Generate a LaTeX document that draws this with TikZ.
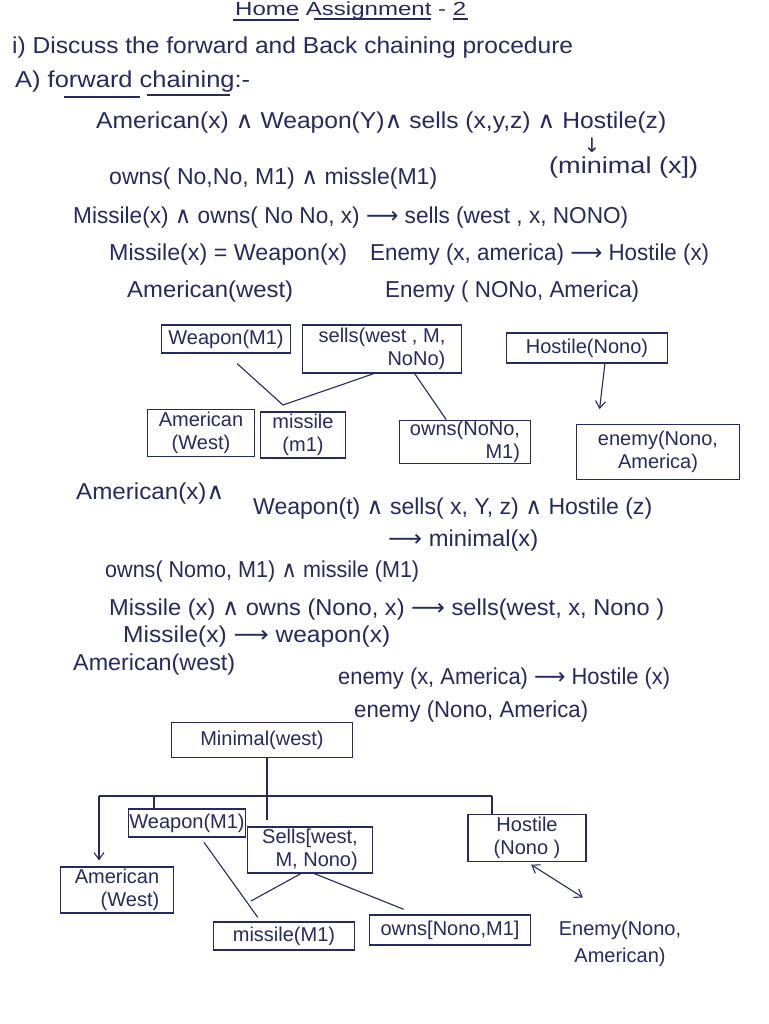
\documentclass[tikz,border=0pt]{standalone}
\usepackage{fontspec}
\setmainfont{Liberation Sans}
\newfontfamily\sym{DejaVu Sans}
\usetikzlibrary{arrows.meta,calc}
\definecolor{ink}{RGB}{38,42,92}
\newcommand{\hw}[2]{\resizebox{#1pt}{\height}{#2}}
\newcommand{\AND}{{\sym ∧}}
\newcommand{\LAR}{{\sym ⟶}}
\begin{document}
\begin{tikzpicture}[x=1pt,y=-1pt,
  txt/.style={inner sep=0pt, anchor=base west, text=ink, font=\fontsize{23}{27}\selectfont},
  box/.style={draw=ink, line width=1.1pt, text=ink, inner sep=1pt, font=\fontsize{20}{23}\selectfont, align=center},
  wire/.style={draw=ink, line width=1.1pt},
  tip/.style={-{Straight Barb[length=7pt,width=10pt]}},
  tips/.style={{Straight Barb[length=7pt,width=10pt]}-{Straight Barb[length=7pt,width=10pt]}}]
\useasboundingbox (0,0) rectangle (768,1024);
\fill[white] (0,0) rectangle (768,1024);

% header
\node[txt, font=\fontsize{19}{22}\selectfont] (t0) at (235,16) {\hw{231}{Home Assignment - 2}};
\draw[wire] (233,20) -- (299,20) (314,19) -- (431,19) (453,19) -- (468,19);
\node[txt] (t1) at (12,54) {\hw{561}{i) Discuss the forward and Back chaining procedure}};
\node[txt] (t2) at (15,88) {\hw{235}{A) forward chaining:-}};
\draw[wire] (64,97) -- (140,97) (147,95) -- (230,95);

% first rules
\node[txt] (t3) at (96,129) {\hw{570}{American(x) \AND{} Weapon(Y)\AND{} sells (x,y,z) \AND{} Hostile(z)}};
\node[text=ink, inner sep=0pt, font=\sym\fontsize{20}{22}\selectfont] (t4) at (592,145) {↓};
\node[txt] (t5) at (549,174) {\hw{149}{(minimal (x])}};
\node[txt] (t6) at (109,185) {\hw{328}{owns( No,No, M1) \AND{} missle(M1)}};
\node[txt] (t7) at (73,224) {\hw{555}{Missile(x) \AND{} owns( No No, x) \LAR{} sells (west , x, NONO)}};
\node[txt] (t8) at (109,260) {\hw{238}{Missile(x) = Weapon(x)}};
\node[txt] (t9) at (370,260) {\hw{339}{Enemy (x, america) \LAR{} Hostile (x)}};
\node[txt] (t10) at (127,297) {\hw{166}{American(west)}};
\node[txt] (t11) at (385,297) {\hw{254}{Enemy ( NONo, America)}};

% first diagram
\node[box, minimum width=129pt, minimum height=28pt] (weapon1) at (226,339) {Weapon(M1)};
\node[box, minimum width=159pt, minimum height=48pt, align=right] (sells1) at (382,349) {sells(west , M,\\NoNo)};
\node[box, minimum width=161pt, minimum height=30pt] (hostile1) at (587,348) {Hostile(Nono)};
\node[box, minimum width=107pt, minimum height=47pt] (american1) at (201,433) {American\\(West)};
\node[box, minimum width=85pt, minimum height=46pt] (missile1) at (303,435) {missile\\(m1)};
\node[box, minimum width=131pt, minimum height=40pt, align=right] (owns1) at (465,442) {owns(NoNo,\\M1)};
\node[box, minimum width=163pt, minimum height=55pt] (enemy1) at (658,452) {enemy(Nono,\\America)};
\coordinate (j1) at (283,405);
\draw[wire, shorten <=15pt] (weapon1.south) -- (j1);
\draw[wire] (sells1.-108) -- (j1);
\draw[wire] (sells1.-37) -- (owns1.130);
\draw[wire, tip, shorten >=15pt] (hostile1.-41) -- (enemy1.155);

% second rules
\node[txt] (t12) at (76,499) {\hw{148}{American(x)\AND}};
\node[txt] (t13) at (253,514) {\hw{399}{Weapon(t) \AND{} sells( x, Y, z) \AND{} Hostile (z)}};
\node[txt] (t14) at (388,546) {\hw{150}{\LAR{} minimal(x)}};
\node[txt] (t15) at (105,577) {\hw{314}{owns( Nomo, M1) \AND{} missile (M1)}};
\node[txt] (t16) at (109,615) {\hw{555}{Missile (x) \AND{} owns (Nono, x) \LAR{} sells(west, x, Nono )}};
\node[txt] (t17) at (123,642) {\hw{267}{Missile(x) \LAR{} weapon(x)}};
\node[txt] (t18) at (73,670) {\hw{162}{American(west)}};
\node[txt] (t19) at (338,684) {\hw{332}{enemy (x, America) \LAR{} Hostile (x)}};
\node[txt] (t20) at (354,717) {\hw{234}{enemy (Nono, America)}};

% second diagram
\node[box, minimum width=181pt, minimum height=35pt] (minimal2) at (262,740) {Minimal(west)};
\node[box, minimum width=116pt, minimum height=28pt] (weapon2) at (187,823) {Weapon(M1)};
\node[box, minimum width=125pt, minimum height=46pt, align=right] (sells2) at (310,850) {Sells[west,\\M, Nono)};
\node[box, minimum width=118pt, minimum height=47pt] (hostile2) at (527,838) {Hostile\\(Nono )};
\node[box, minimum width=113pt, minimum height=46pt, align=right] (american2) at (117,890) {American\\(West)};
\node[box, minimum width=141pt, minimum height=28pt] (missile2) at (284,936) {missile(M1)};
\node[box, minimum width=161pt, minimum height=30pt] (owns2) at (450,930) {owns[Nono,M1]};
\node[text=ink, inner sep=0pt, align=center, font=\fontsize{20}{27}\selectfont] (enemy2) at (620,944) {Enemy(Nono,\\American)};

\coordinate (bm) at (267,796);
\coordinate (bl) at (99,796);
\coordinate (br) at (492,796);
\coordinate (bw) at (154,796);
\draw[wire] (minimal2.south -| bm) -- ($(bm |- sells2.north)+(0,-6)$);
\draw[wire] (bl) -- (br);
\draw[wire, tip, shorten >=6pt] (bl) -- (bl |- american2.north);
\draw[wire] (bw) -- (bw |- weapon2.north);
\draw[wire] (br) -- (br |- hostile2.north);
\coordinate (j2) at (251,901);
\draw[wire, shorten <=6pt, shorten >=5pt] (weapon2.-47) -- (missile2.148);
\draw[wire] (sells2.-111) -- (j2);
\draw[wire, shorten >=14pt] (sells2.-80) -- (owns2.155);
\draw[wire, tips, shorten <=5pt, shorten >=44pt] (hostile2.south) -- (enemy2.north);
\end{tikzpicture}
\end{document}
